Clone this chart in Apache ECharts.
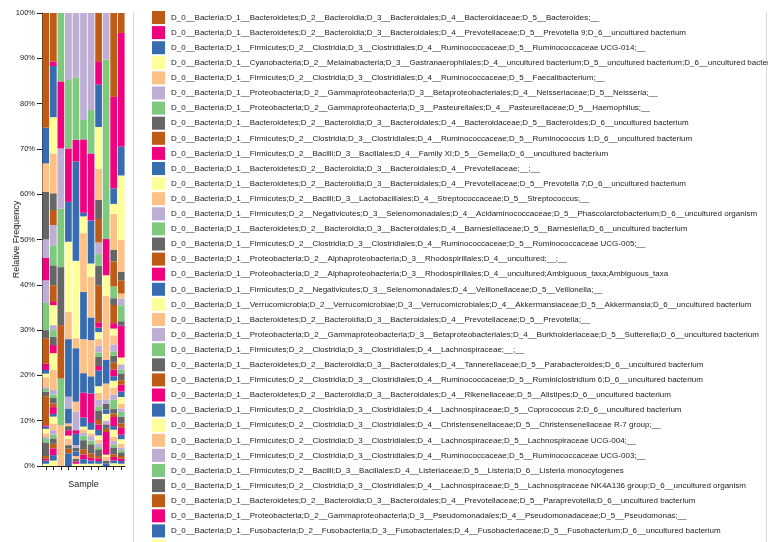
<!DOCTYPE html>
<html>
<head>
<meta charset="utf-8">
<script src="https://cdn.jsdelivr.net/npm/echarts@6/dist/echarts.min.js"></script>
<style>
html,body{margin:0;padding:0;background:#fff;}
#chart{width:768px;height:542px;}
</style>
</head>
<body>
<div id="chart"></div>
<script>
// Taxa (legend order, top of stack first)
const taxa = [
"D_0__Bacteria;D_1__Bacteroidetes;D_2__Bacteroidia;D_3__Bacteroidales;D_4__Bacteroidaceae;D_5__Bacteroides;__",
"D_0__Bacteria;D_1__Bacteroidetes;D_2__Bacteroidia;D_3__Bacteroidales;D_4__Prevotellaceae;D_5__Prevotella 9;D_6__uncultured bacterium",
"D_0__Bacteria;D_1__Firmicutes;D_2__Clostridia;D_3__Clostridiales;D_4__Ruminococcaceae;D_5__Ruminococcaceae UCG-014;__",
"D_0__Bacteria;D_1__Cyanobacteria;D_2__Melainabacteria;D_3__Gastranaerophilales;D_4__uncultured bacterium;D_5__uncultured bacterium;D_6__uncultured bacterium",
"D_0__Bacteria;D_1__Firmicutes;D_2__Clostridia;D_3__Clostridiales;D_4__Ruminococcaceae;D_5__Faecalibacterium;__",
"D_0__Bacteria;D_1__Proteobacteria;D_2__Gammaproteobacteria;D_3__Betaproteobacteriales;D_4__Neisseriaceae;D_5__Neisseria;__",
"D_0__Bacteria;D_1__Proteobacteria;D_2__Gammaproteobacteria;D_3__Pasteurellales;D_4__Pasteurellaceae;D_5__Haemophilus;__",
"D_0__Bacteria;D_1__Bacteroidetes;D_2__Bacteroidia;D_3__Bacteroidales;D_4__Bacteroidaceae;D_5__Bacteroides;D_6__uncultured bacterium",
"D_0__Bacteria;D_1__Firmicutes;D_2__Clostridia;D_3__Clostridiales;D_4__Ruminococcaceae;D_5__Ruminococcus 1;D_6__uncultured bacterium",
"D_0__Bacteria;D_1__Firmicutes;D_2__Bacilli;D_3__Bacillales;D_4__Family XI;D_5__Gemella;D_6__uncultured bacterium",
"D_0__Bacteria;D_1__Bacteroidetes;D_2__Bacteroidia;D_3__Bacteroidales;D_4__Prevotellaceae;__;__",
"D_0__Bacteria;D_1__Bacteroidetes;D_2__Bacteroidia;D_3__Bacteroidales;D_4__Prevotellaceae;D_5__Prevotella 7;D_6__uncultured bacterium",
"D_0__Bacteria;D_1__Firmicutes;D_2__Bacilli;D_3__Lactobacillales;D_4__Streptococcaceae;D_5__Streptococcus;__",
"D_0__Bacteria;D_1__Firmicutes;D_2__Negativicutes;D_3__Selenomonadales;D_4__Acidaminococcaceae;D_5__Phascolarctobacterium;D_6__uncultured organism",
"D_0__Bacteria;D_1__Bacteroidetes;D_2__Bacteroidia;D_3__Bacteroidales;D_4__Barnesiellaceae;D_5__Barnesiella;D_6__uncultured bacterium",
"D_0__Bacteria;D_1__Firmicutes;D_2__Clostridia;D_3__Clostridiales;D_4__Ruminococcaceae;D_5__Ruminococcaceae UCG-005;__",
"D_0__Bacteria;D_1__Proteobacteria;D_2__Alphaproteobacteria;D_3__Rhodospirillales;D_4__uncultured;__;__",
"D_0__Bacteria;D_1__Proteobacteria;D_2__Alphaproteobacteria;D_3__Rhodospirillales;D_4__uncultured;Ambiguous_taxa;Ambiguous_taxa",
"D_0__Bacteria;D_1__Firmicutes;D_2__Negativicutes;D_3__Selenomonadales;D_4__Veillonellaceae;D_5__Veillonella;__",
"D_0__Bacteria;D_1__Verrucomicrobia;D_2__Verrucomicrobiae;D_3__Verrucomicrobiales;D_4__Akkermansiaceae;D_5__Akkermansia;D_6__uncultured bacterium",
"D_0__Bacteria;D_1__Bacteroidetes;D_2__Bacteroidia;D_3__Bacteroidales;D_4__Prevotellaceae;D_5__Prevotella;__",
"D_0__Bacteria;D_1__Proteobacteria;D_2__Gammaproteobacteria;D_3__Betaproteobacteriales;D_4__Burkholderiaceae;D_5__Sutterella;D_6__uncultured bacterium",
"D_0__Bacteria;D_1__Firmicutes;D_2__Clostridia;D_3__Clostridiales;D_4__Lachnospiraceae;__;__",
"D_0__Bacteria;D_1__Bacteroidetes;D_2__Bacteroidia;D_3__Bacteroidales;D_4__Tannerellaceae;D_5__Parabacteroides;D_6__uncultured bacterium",
"D_0__Bacteria;D_1__Firmicutes;D_2__Clostridia;D_3__Clostridiales;D_4__Ruminococcaceae;D_5__Ruminiclostridium 6;D_6__uncultured bacterium",
"D_0__Bacteria;D_1__Bacteroidetes;D_2__Bacteroidia;D_3__Bacteroidales;D_4__Rikenellaceae;D_5__Alistipes;D_6__uncultured bacterium",
"D_0__Bacteria;D_1__Firmicutes;D_2__Clostridia;D_3__Clostridiales;D_4__Lachnospiraceae;D_5__Coprococcus 2;D_6__uncultured bacterium",
"D_0__Bacteria;D_1__Firmicutes;D_2__Clostridia;D_3__Clostridiales;D_4__Christensenellaceae;D_5__Christensenellaceae R-7 group;__",
"D_0__Bacteria;D_1__Firmicutes;D_2__Clostridia;D_3__Clostridiales;D_4__Lachnospiraceae;D_5__Lachnospiraceae UCG-004;__",
"D_0__Bacteria;D_1__Firmicutes;D_2__Clostridia;D_3__Clostridiales;D_4__Ruminococcaceae;D_5__Ruminococcaceae UCG-003;__",
"D_0__Bacteria;D_1__Firmicutes;D_2__Bacilli;D_3__Bacillales;D_4__Listeriaceae;D_5__Listeria;D_6__Listeria monocytogenes",
"D_0__Bacteria;D_1__Firmicutes;D_2__Clostridia;D_3__Clostridiales;D_4__Lachnospiraceae;D_5__Lachnospiraceae NK4A136 group;D_6__uncultured organism",
"D_0__Bacteria;D_1__Bacteroidetes;D_2__Bacteroidia;D_3__Bacteroidales;D_4__Prevotellaceae;D_5__Paraprevotella;D_6__uncultured bacterium",
"D_0__Bacteria;D_1__Proteobacteria;D_2__Gammaproteobacteria;D_3__Pseudomonadales;D_4__Pseudomonadaceae;D_5__Pseudomonas;__",
"D_0__Bacteria;D_1__Fusobacteria;D_2__Fusobacteriia;D_3__Fusobacteriales;D_4__Fusobacteriaceae;D_5__Fusobacterium;D_6__uncultured bacterium",
"Other taxon 36","Other taxon 37","Other taxon 38","Other taxon 39","Other taxon 40",
"Other taxon 41","Other taxon 42","Other taxon 43","Other taxon 44"
];

const samples = ["S1","S2","S3","S4","S5","S6","S7","S8","S9","S10","S11"];

// Relative abundance (%) per sample, one value per taxon in legend order
const s1  = [25.3,0,7.9,0,6.3,0,0,10.5,0,0,0,0,0,4,0,0,0,5,0,0,0,5,6,1.8,5.6,1.4,0.8,0.8,2.2,0.4,0.6,1.0,6.4,0.3,0.5,1.0,0.8,0.4,0.8,3.0,0.6,0.4,0.7,0.5];
const s2  = [10.7,1.0,11.3,8,8.8,0,0,3.7,3.3,0,0,0,0,4.5,4.4,4.4,3.7,0.7,0,4.4,0,1.1,1.5,1.8,0,1.8,0,3.7,4.4,1.0,0.8,1.2,0.8,1.5,0.6,1.5,1.5,1.0,0.8,1.2,1.0,1.5,1.2,1.2];
const s3  = [0,0,0,0,0,0,15.1,0,0,14.8,0,0,0,13.3,12.9,12.8,11.8,0,0,0,0,0,10.3,0,0,0,0,0,9.0,0,0,0,0,0,0,0,0,0,0,0,0,0,0,0];
const s4  = [0,0,0,0,0,14.8,15.1,0,0,11.8,8.8,15.5,6,0,0,0,0,0,12.7,0,0,2.6,0,0,0,0,3.3,0,0.6,0,0,0.9,0,1.2,0,0.7,1.4,0,0,0.8,1.0,0,2.8,0];
const s5  = [0,0,0,0,0,14.2,13.8,0,0,4.8,21.9,17.1,2.2,0,0,0,0,0,11.8,0,2.2,4.1,0,0,0,0.8,2.5,0,0,0.6,0,0.8,0,0,1.0,0,0.6,0,0,0.6,0,0.5,0,0.5];
const s6  = [0,0,0,0,0,23.6,4.3,0,0,16.2,0.8,3.7,13,0,0,0,0,0,10.4,0,7.5,0,0,0,0,0,4.3,0,0,0,0,0,0,5.5,2.0,0.6,0.8,0.6,1.0,2.0,1.2,1.0,1.0,0.5];
const s7  = [0,0,0,0,0,21.4,9.6,0,0,14.8,9.5,2.9,9,0,0,0,0,0,5,0,8,0,0,0,0,0,3.8,0,0,0,0,0,0,6.5,1.5,0.8,0.6,1.0,0.8,2.0,1.0,0.6,0.7,0.5];
const s8  = [10.7,5.2,9.4,9.3,6.8,0,0,4.3,5.2,0,0,0,0,2.6,2.6,4.4,8.1,1.2,1.0,1.5,1.5,1.5,1.0,2.0,0,1.0,3.5,1.5,1.5,1.5,1.0,2.0,1.0,1.2,1.2,1.0,0.8,0.8,0.5,1.5,0.5,0.6,0.6,0.5];
const s9  = [0,0,0,0,0,10.3,39.6,0,0,8,0,4.5,14.2,0,0,0,0,0,5.2,0,3.5,1.0,0,1.2,0,0,1.0,1.5,0,0.8,0,1.0,0.7,5.0,0,0.5,0.8,0,0,0.6,0,0,0.6,0];
const s10 = [18.5,20.2,3.4,2.2,7.9,0,0,2.6,5.5,0,0,0,0,0,2.6,1.5,4,1.2,0,1.5,2,1.5,1.0,1.5,1.5,1.5,1.0,1.5,1.5,1.2,2.0,1.0,0.8,2.0,0.8,1.5,1.0,0.8,0.6,1.5,0.6,0.8,0.6,0.6];
const s11 = [4.4,25,6.4,14.2,7.0,0,0,1.9,2.9,0,0,0,1.1,1.5,3.5,1.0,0,7,0,1.5,0,1.2,0.8,1.5,1.0,1.5,1.2,1.5,1.0,0.8,1.0,1.5,1.0,1.5,1.0,1.0,0.8,0.6,0.5,0.8,0.6,0.5,0.6,0.5];

const yTicks = ["0%","10%","20%","30%","40%","50%","60%","70%","80%","90%","100%"];
const palette = ["#bf5b17","#f0027f","#386cb0","#ffff99","#fdc086","#beaed4","#7fc97f","#666666"];

const sampleData = [s1,s2,s3,s4,s5,s6,s7,s8,s9,s10,s11];
const sums = sampleData.map(a => a.reduce((p,c)=>p+c,0));

const series = [];
for (let t = taxa.length - 1; t >= 0; t--) {
  series.push({
    name: taxa[t],
    type: 'bar',
    stack: 'total',
    barCategoryGap: '11%',
    itemStyle: { color: palette[t % palette.length] },
    emphasis: { disabled: true },
    data: sampleData.map((a, i) => a[t] * 100 / sums[i])
  });
}

const chart = echarts.init(document.getElementById('chart'), null, { renderer: 'canvas' });
chart.setOption({
  animation: false,
  backgroundColor: '#fff',
  textStyle: { fontFamily: 'Liberation Sans, Arial, sans-serif' },
  grid: { left: 42, top: 13, right: 643, bottom: 76, containLabel: false },
  xAxis: {
    type: 'category',
    data: samples,
    name: 'Sample',
    nameLocation: 'middle',
    nameGap: 14,
    nameMoveOverlap: false,
    nameTextStyle: { fontSize: 9, color: '#222' },
    axisLine: { show: true, lineStyle: { color: '#222', width: 1 } },
    axisTick: { show: true, interval: 0, alignWithLabel: true, length: 4, lineStyle: { color: '#222' } },
    axisLabel: { show: false, interval: 0 }
  },
  yAxis: {
    type: 'value',
    min: 0, max: 100, interval: 10,
    name: 'Relative Frequency',
    nameLocation: 'middle',
    nameGap: 21,
    nameMoveOverlap: false,
    nameTextStyle: { fontSize: 9, color: '#222' },
    axisLine: { show: true, lineStyle: { color: '#222', width: 1 } },
    axisTick: { show: true, length: 5, lineStyle: { color: '#222' } },
    axisLabel: { fontSize: 7.5, color: '#222', margin: 7,
      formatter: v => yTicks[Math.round(v / 10)] },
    splitLine: { show: false }
  },
  legend: {
    orient: 'vertical',
    left: 147,
    top: 6,
    height: 2000,
    icon: 'rect',
    itemWidth: 13,
    itemHeight: 13,
    itemGap: 2.1,
    selectedMode: false,
    textStyle: { fontSize: 8, color: '#222', padding: [0,0,0,1] },
    data: taxa
  },
  graphic: [
    { type: 'line', shape: { x1: 133.5, y1: 12, x2: 133.5, y2: 542 }, style: { stroke: '#d9d9d9', lineWidth: 1 } },
    { type: 'line', shape: { x1: 766.5, y1: 12, x2: 766.5, y2: 542 }, style: { stroke: '#d9d9d9', lineWidth: 1 } }
  ],
  series: series
});
</script>
</body>
</html>
